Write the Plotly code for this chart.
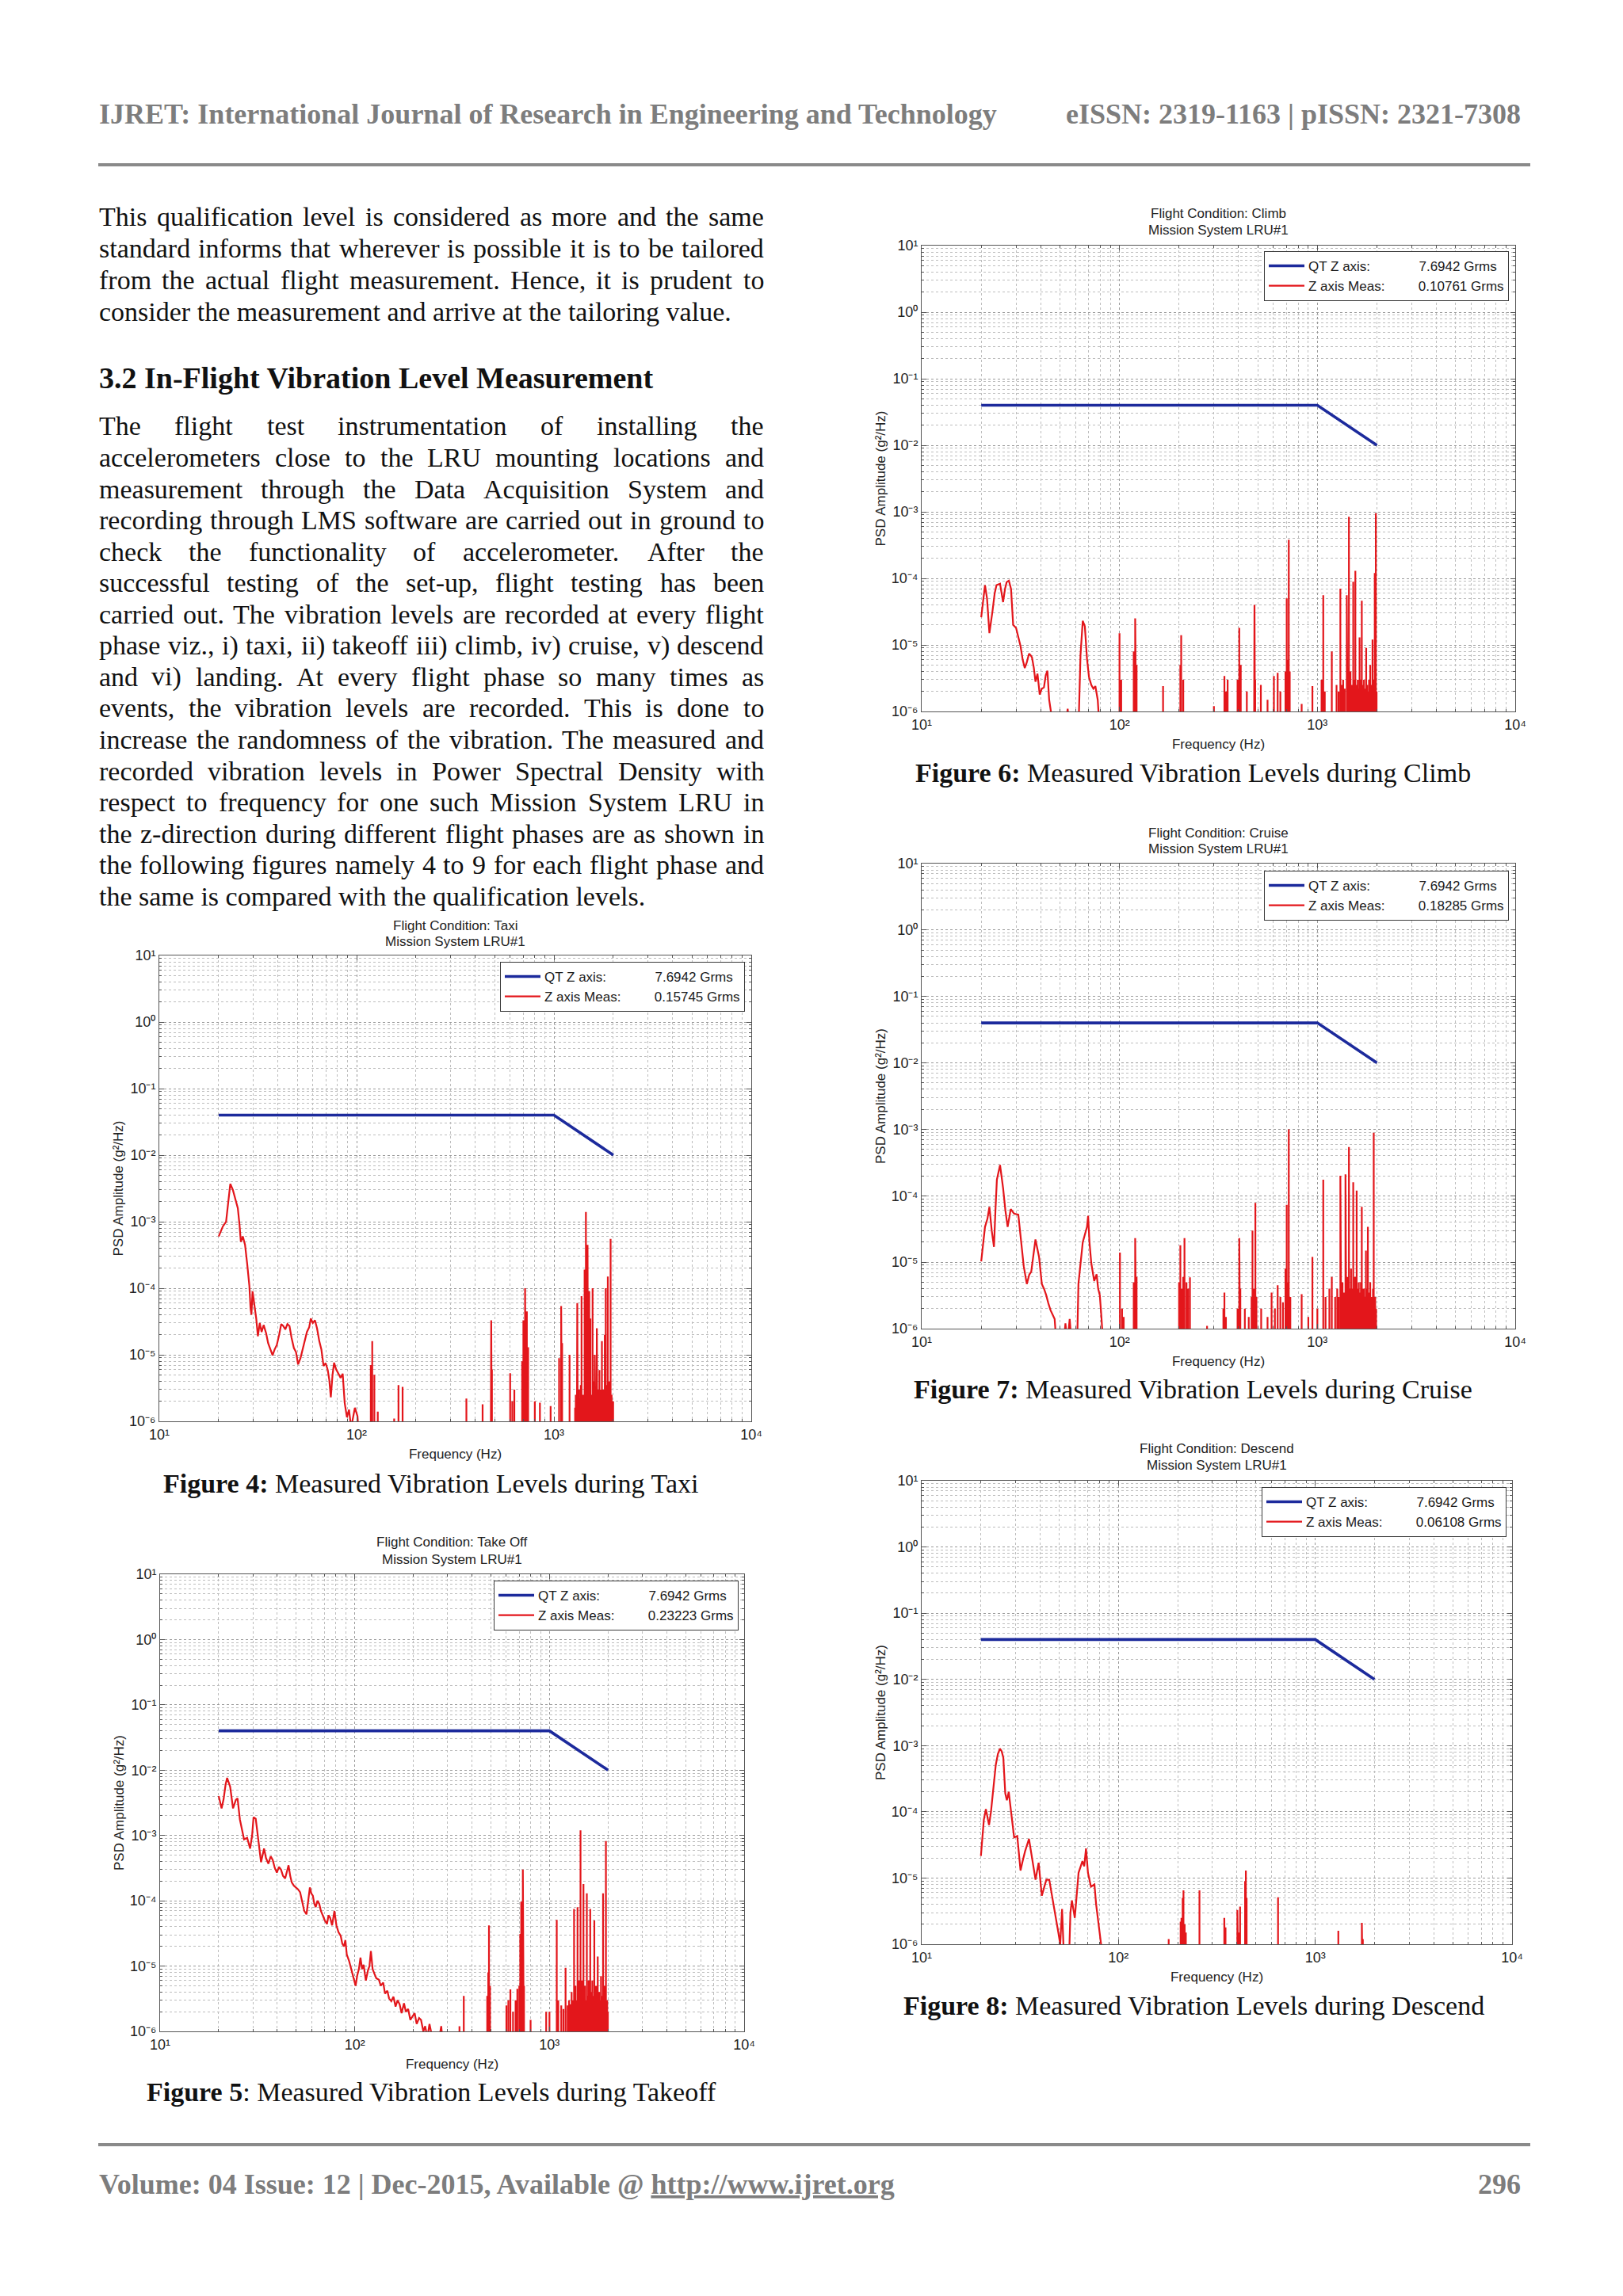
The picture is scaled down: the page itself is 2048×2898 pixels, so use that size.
import plotly.graph_objects as go

W, H = 2048, 2898

# ---------------- data ----------------
QT_FREQ = [20, 1000, 2000]
QT_PSD = [0.04, 0.04, 0.01]
QT_GRMS = "7.6942"

X_TICK_VALS = [10, 100, 1000, 10000]
X_TICK_TEXT = ["10¹", "10²", "10³", "10⁴"]
Y_TICK_VALS = [1e-6, 1e-5, 1e-4, 1e-3, 1e-2, 1e-1, 1, 10]
Y_TICK_TEXT = ["10⁻⁶", "10⁻⁵", "10⁻⁴", "10⁻³", "10⁻²", "10⁻¹", "10⁰", "10¹"]

FLOOR = 1e-7  # below the visible axis floor, spikes rise from here

# --- Taxi ---
TAXI_GRMS = "0.15745"
TAXI_F = [20, 21.0, 21.8, 22.3, 22.9, 23.6, 24.3, 25.0, 25.5, 25.9, 26.5, 27.2, 27.9, 28.6, 29.0, 29.3,
          29.7, 30.0, 30.5, 31.0, 31.6, 32.3, 33.0, 33.8, 34.8, 35.6, 36.5, 37.5, 38.4, 39.4, 40.5, 41.5,
          42.5, 43.5, 44.6, 45.7, 46.8, 48.1, 49.3, 50.5, 52.0, 53.2, 54.4, 56.0, 57.5, 58.6, 60.0, 61.5,
          63.0, 64.7, 66.3, 68.0, 69.7, 71.4, 72.7, 74.0, 75.5, 76.9, 78.8, 80.8, 83.0, 85.0, 87.0, 89.3,
          91.5, 93.8, 96.0, 98.0, 101, 103]
TAXI_P = [6.0e-4, 8.5e-4, 1.0e-3, 2.0e-3, 3.7e-3, 3.0e-3, 2.2e-3, 1.6e-3, 9e-4, 5.0e-4, 6.0e-4, 4.5e-4,
          2.3e-4, 1.1e-4, 5e-5, 4.0e-5, 9e-5, 7.5e-5, 5e-5, 3.5e-5, 1.9e-5, 3.0e-5, 2.2e-5, 2.8e-5, 2.1e-5,
          1.5e-5, 1.2e-5, 9.8e-6, 1.2e-5, 1.4e-5, 2.0e-5, 2.9e-5, 2.7e-5, 2.4e-5, 2.9e-5, 2.7e-5, 1.8e-5,
          1.26e-5, 1.1e-5, 7.2e-6, 9e-6, 1.2e-5, 1.6e-5, 2.2e-5, 2.6e-5, 3.5e-5, 3.0e-5, 3.3e-5, 2.5e-5,
          1.6e-5, 1.2e-5, 6.8e-6, 7.5e-6, 5.9e-6, 4.2e-6, 2.3e-6, 5.0e-6, 7.6e-6, 6.0e-6, 5.2e-6, 4.5e-6,
          5.2e-6, 1.9e-6, 1.15e-6, 1.5e-6, 8e-7, 1.1e-6, 1.6e-6, 1.2e-6, 5e-7]
TAXI_SPIKE_F = [118, 120, 123, 128, 155, 163, 171, 360, 435, 478, 481, 485, 600, 615, 630, 690, 700, 714,
                722, 729, 740, 800, 849, 962, 1062, 1088, 1100, 1200, 1280, 1290, 1305, 1313, 1322, 1340,
                1352, 1368, 1380, 1395, 1410, 1430, 1440, 1452, 1462, 1470, 1480, 1490, 1500, 1510, 1520,
                1530, 1540, 1550, 1560, 1570, 1582, 1590, 1600, 1610, 1622, 1630, 1640, 1650, 1662, 1675,
                1688, 1700, 1710, 1720, 1735, 1750, 1760, 1780, 1790, 1810, 1820, 1830, 1842, 1850, 1862,
                1875, 1890, 1900, 1915, 1937, 1945, 1960, 1970, 1985, 1995]
TAXI_SPIKE_P = [7e-6, 1.6e-5, 5e-6, 1.4e-6, 1.1e-6, 3.5e-6, 3.3e-6, 2.2e-6, 1.8e-6, 8e-6, 3.3e-5, 6e-6,
                5.3e-6, 2e-6, 3e-6, 8e-6, 3.3e-5, 1.0e-4, 2e-5, 4.5e-5, 1.3e-5, 2e-6, 1.9e-6, 1.7e-6,
                8.9e-6, 5.4e-5, 1.5e-5, 1.0e-5, 1.6e-6, 2.5e-6, 2e-6, 6e-5, 3e-6, 3e-6, 2.2e-6, 3.5e-6,
                7.6e-5, 2.5e-6, 2.5e-6, 1.9e-4, 3e-6, 1.4e-3, 2.8e-6, 5e-6, 4.5e-4, 2.2e-6, 3e-6, 9e-5,
                2.6e-6, 3.5e-5, 3e-6, 2.5e-6, 2.2e-6, 1.0e-4, 3e-6, 4e-6, 2.4e-6, 1.0e-5, 2.8e-6, 3e-6,
                2.2e-6, 2.5e-5, 3e-6, 3e-6, 2.4e-6, 5.9e-6, 2.6e-6, 2.5e-6, 3e-6, 1.6e-5, 2.2e-6, 3e-6,
                2.8e-6, 2e-5, 2.5e-6, 1.0e-4, 3e-6, 3.5e-6, 2.4e-6, 1.5e-4, 2.8e-6, 4e-6, 2.6e-6, 5.5e-4,
                3e-6, 2.5e-6, 2.2e-6, 1.5e-6, 2e-6]

# --- Take Off ---
TAKEOFF_GRMS = "0.23223"
TAKEOFF_F = [20, 20.7, 21.2, 21.7, 22.1, 22.9, 23.7, 24.5, 25.0, 25.7, 26.4, 27.0, 28.0, 29.0, 29.7, 30.2,
             31.0, 31.6, 32.2, 33.0, 34.2, 35.0, 36.0, 37.0, 37.9, 38.8, 39.8, 40.8, 41.8, 42.8, 43.9, 44.8,
             45.7, 46.6, 47.5, 48.7, 49.9, 51.1, 52.4, 53.7, 55.0, 56.5, 57.6, 58.8, 59.8, 60.9, 62.0, 63.0,
             64.3, 65.7, 67.0, 68.4, 70.2, 72.0, 73.3, 74.7, 76.5, 78.6, 80.5, 82.5, 84.7, 86.3, 88.0, 89.5,
             91.0, 93.5, 96.0, 98.5, 101, 103, 105, 107, 109, 111, 114, 117, 119, 121, 123.5, 126, 129, 133,
             136, 140, 143, 147, 150, 154, 158, 162, 166, 170, 174, 179, 183, 188, 193, 198, 203, 208, 214,
             219, 225, 230, 236, 242, 248, 255, 265, 272, 278, 284, 290]
TAKEOFF_P = [4.0e-3, 2.6e-3, 3.6e-3, 6e-3, 7.6e-3, 5.6e-3, 2.6e-3, 3.5e-3, 3.7e-3, 1.76e-3, 1.2e-3, 8.7e-4,
             9.2e-4, 6.3e-4, 1.0e-3, 1.9e-3, 1.8e-3, 1.1e-3, 7e-4, 3.9e-4, 6.3e-4, 4.5e-4, 3.7e-4, 4.8e-4,
             4.2e-4, 3.2e-4, 2.7e-4, 3.3e-4, 3.0e-4, 2.4e-4, 2.2e-4, 2.8e-4, 3.5e-4, 2.4e-4, 1.9e-4, 1.7e-4,
             1.6e-4, 1.5e-4, 1.35e-4, 1.0e-4, 7.0e-5, 6.2e-5, 1.0e-4, 1.6e-4, 1.3e-4, 1.2e-4, 9e-5, 8e-5,
             1.0e-4, 9e-5, 7e-5, 6e-5, 5e-5, 4.4e-5, 6e-5, 5.5e-5, 4.2e-5, 7e-5, 4.2e-5, 3.3e-5, 2.9e-5,
             2.2e-5, 2e-5, 2.5e-5, 1.5e-5, 1.2e-5, 8.9e-6, 7e-6, 5.0e-6, 7.2e-6, 9e-6, 1.35e-5, 9e-6,
             1.05e-5, 6e-6, 8.7e-6, 1e-5, 1.7e-5, 9e-6, 7.7e-6, 6.5e-6, 6.2e-6, 5e-6, 5.6e-6, 3.8e-6,
             4.2e-6, 3.2e-6, 2.9e-6, 3.4e-6, 2.4e-6, 3e-6, 2.6e-6, 1.9e-6, 2.7e-6, 2.0e-6, 2.2e-6, 1.5e-6,
             1.7e-6, 1.9e-6, 1.3e-6, 1.6e-6, 1.5e-6, 1.0e-6, 1.2e-6, 8e-7, 1.3e-6, 9e-7, 6e-7, 5e-7, 8e-7,
             1.2e-6, 6e-7, 5e-7]
TAKEOFF_SPIKE_F = [345, 363, 479, 485, 489, 495, 601, 615, 630, 650, 670, 684, 700, 708, 716, 730, 740,
                   800, 962, 1000, 1090, 1110, 1150, 1180, 1210, 1240, 1260, 1280, 1300, 1320, 1338, 1350,
                   1360, 1380, 1394, 1408, 1420, 1432, 1444, 1458, 1470, 1482, 1495, 1508, 1520, 1540,
                   1556, 1570, 1590, 1605, 1620, 1640, 1660, 1680, 1700, 1718, 1735, 1752, 1770, 1785,
                   1800, 1820, 1840, 1860, 1885, 1900, 1920, 1935, 1950, 1965, 1980, 1995]
TAKEOFF_SPIKE_P = [1.2e-6, 3.5e-6, 3.5e-6, 8e-6, 4.2e-5, 5e-6, 2.5e-6, 3e-6, 4.4e-6, 2e-6, 3e-6, 4.5e-6,
                   5e-6, 3.1e-5, 9.7e-5, 3.0e-4, 5e-6, 1.5e-6, 2.0e-6, 2e-6, 5.1e-5, 3e-6, 2.5e-6, 2.2e-6,
                   9.4e-6, 2.5e-6, 3e-6, 2.6e-6, 4e-6, 3e-6, 7.5e-5, 3.5e-6, 5e-6, 3e-6, 8e-5, 3.5e-6,
                   6e-6, 4e-6, 1.2e-3, 3.5e-6, 6e-6, 4e-6, 1.8e-4, 3.5e-6, 5e-6, 3e-6, 1.3e-4, 3.5e-6,
                   6e-6, 3e-6, 7.5e-5, 4e-6, 6e-6, 3.5e-6, 5e-5, 3e-6, 5e-6, 3.5e-6, 1.4e-5, 3e-6, 4e-6,
                   3e-6, 7e-6, 3.5e-6, 1.3e-4, 3e-6, 5e-6, 3e-6, 8.2e-4, 3e-6, 3e-6, 2e-6]

# --- Climb ---
CLIMB_GRMS = "0.10761"
CLIMB_F = [20, 20.5, 20.9, 21.4, 22.0, 22.8, 23.4, 23.9, 24.9, 25.8, 26.4, 26.9, 27.6, 28.3, 29.0, 30.0,
           30.8, 31.6, 32.4, 33.2, 34.0, 34.9, 35.5, 36.1, 36.9, 37.6, 38.5, 39.5, 40.5, 41.5, 42.4, 43.2,
           44.1, 45.0, 46, 53, 54.7, 56, 62, 63.5, 65.2, 66.8, 68.5, 70.1, 72.0, 73.8, 75.5, 77.6, 79.5]
CLIMB_P = [2.6e-5, 5e-5, 7.9e-5, 5e-5, 1.5e-5, 3.2e-5, 6e-5, 7.9e-5, 8.3e-5, 4.4e-5, 7e-5, 8.8e-5, 9.2e-5,
           6.9e-5, 2.0e-5, 1.8e-5, 1.3e-5, 9.6e-6, 6e-6, 4.5e-6, 5.5e-6, 7.4e-6, 7.0e-6, 6.5e-6, 4.5e-6,
           2.8e-6, 3.7e-6, 1.8e-6, 2.2e-6, 2.3e-6, 3.5e-6, 4.1e-6, 1.5e-6, 1.0e-6, 5e-7, 5e-7, 1.1e-6,
           5e-7, 5e-7, 7e-6, 2.3e-5, 1.9e-5, 6.2e-6, 3.3e-6, 2.5e-6, 2.2e-6, 2.4e-6, 1.5e-6, 5e-7]
CLIMB_SPIKE_F = [100, 102, 118, 120, 122, 166, 203, 205, 210, 300, 339, 345, 352, 395, 403, 410, 440, 478,
                 481, 485, 518, 560, 603, 630, 650, 690, 700, 710, 717, 725, 833, 944, 1050, 1071, 1090,
                 1183, 1250, 1280, 1307, 1330, 1350, 1375, 1408, 1425, 1444, 1470, 1495, 1518, 1535,
                 1556, 1580, 1600, 1615, 1634, 1655, 1677, 1700, 1720, 1745, 1765, 1785, 1800, 1825,
                 1850, 1875, 1900, 1925, 1950, 1975, 1992]
CLIMB_SPIKE_P = [1.5e-5, 3e-6, 8e-6, 2.5e-5, 5e-6, 2.4e-6, 5e-6, 1.4e-5, 3e-6, 1.2e-6, 3.4e-6, 2e-6, 3e-6,
                 3e-6, 1.8e-5, 5e-6, 2e-6, 1.2e-5, 4.0e-5, 3e-6, 2.5e-6, 1.5e-6, 3.4e-6, 3.8e-6, 2e-6,
                 4e-6, 5e-5, 6e-6, 3.8e-4, 4e-6, 1.3e-6, 2.4e-6, 3e-6, 5.6e-5, 2e-6, 8e-6, 2.5e-6, 2e-6,
                 7e-5, 2.5e-6, 3e-6, 2.2e-6, 5.6e-5, 3e-6, 8.4e-4, 4e-6, 2.5e-6, 8.9e-5, 3e-6, 1.3e-4,
                 2.5e-6, 3e-6, 2.2e-6, 1.3e-5, 3e-6, 4.6e-5, 2.5e-6, 3e-6, 2.2e-6, 9e-6, 2.5e-6, 2e-6,
                 3e-6, 5e-6, 2.5e-6, 1.2e-5, 3e-6, 1.2e-4, 9.5e-4, 2e-6]

# --- Cruise ---
CRUISE_GRMS = "0.18285"
CRUISE_F = [20, 20.5, 20.9, 21.5, 22.0, 22.6, 23.2, 23.6, 24.0, 24.9, 25.8, 26.5, 27.2, 28.2, 29.3, 30.8,
            31.6, 32.8, 34.0, 35.0, 35.8, 36.7, 37.6, 39.2, 40.5, 41.5, 42.6, 43.7, 44.8, 47.0, 48.2, 52,
            53.3, 54.5, 56.0, 57.5, 61, 62, 63.5, 65.2, 68.5, 69.4, 70.5, 72.0, 74.5, 76.6, 78, 79.5, 81, 83]
CRUISE_P = [1.03e-5, 2.2e-5, 3.4e-5, 4.5e-5, 6.8e-5, 3e-5, 1.7e-5, 6e-5, 1.75e-4, 2.9e-4, 1.3e-4, 6e-5,
            3.4e-5, 6.3e-5, 5.4e-5, 5.2e-5, 2.6e-5, 8.7e-6, 4.7e-6, 6.5e-6, 7.2e-6, 1.3e-5, 2.2e-5, 1.2e-5,
            4.7e-6, 4e-6, 3.2e-6, 2.4e-6, 1.9e-6, 1.4e-6, 5e-7, 5e-7, 1.2e-6, 6e-7, 1.4e-6, 5e-7, 5e-7,
            4.7e-6, 1e-5, 2.0e-5, 3.4e-5, 5e-5, 2e-5, 9.7e-6, 5.2e-6, 6.6e-6, 4e-6, 3.2e-6, 1.5e-6, 5e-7]
CRUISE_SPIKE_F = [100.5, 103, 105, 118, 120, 122, 200, 203, 206, 210, 213, 218, 222, 227, 277, 335, 339,
                  345, 395, 403, 408, 430, 450, 465, 470, 478, 486, 492, 520, 560, 587, 610, 630, 650, 670,
                  690, 700, 710, 717, 730, 833, 900, 944, 1000, 1071, 1100, 1150, 1183, 1230, 1260, 1280,
                  1307, 1325, 1340, 1360, 1387, 1405, 1420, 1444, 1462, 1480, 1500, 1518, 1535, 1550, 1565,
                  1580, 1600, 1620, 1640, 1660, 1677, 1700, 1720, 1740, 1760, 1780, 1800, 1825, 1850, 1870,
                  1890, 1910, 1927, 1945, 1960, 1980]
CRUISE_SPIKE_P = [1.4e-5, 2e-6, 1.5e-6, 5e-6, 2.3e-5, 6e-6, 5e-6, 1.8e-5, 4e-6, 6e-6, 2.3e-5, 5e-6, 4e-6,
                  5.9e-6, 1.1e-6, 2e-6, 3.5e-6, 1.5e-6, 2e-6, 2.3e-5, 4e-6, 2e-6, 1.5e-6, 3e-6, 3e-5, 4e-6,
                  7.8e-5, 3e-6, 2e-6, 1.5e-6, 3.5e-6, 2e-6, 4.5e-6, 3e-6, 2.5e-6, 8e-6, 7.3e-5, 5e-6,
                  1.0e-3, 3e-6, 3.3e-6, 1.5e-6, 1.2e-5, 2e-6, 1.75e-4, 3e-6, 4e-6, 6e-6, 3e-6, 4e-6, 3e-6,
                  2.0e-4, 4e-6, 5e-6, 3.5e-6, 2.1e-4, 4e-6, 6e-6, 5.4e-4, 4e-6, 8e-6, 4e-6, 1.6e-4, 4e-6,
                  6e-6, 3.5e-6, 1.2e-4, 4e-6, 5e-6, 3.5e-6, 5e-6, 6.8e-5, 4e-6, 4e-6, 3e-6, 1.5e-5, 4e-6,
                  3.4e-5, 3.5e-6, 5e-6, 3e-6, 3e-6, 4e-6, 8.9e-4, 3e-6, 3e-6, 2e-6]

# --- Descend ---
DESCEND_GRMS = "0.06108"
DESCEND_F = [20, 20.4, 20.7, 21.2, 21.6, 22.0, 22.5, 22.9, 23.3, 23.8, 24.4, 25.0, 25.5, 26.0, 26.6, 27.1,
             27.7, 28.2, 28.7, 29.5, 30.6, 31.2, 31.8, 32.6, 33.5, 35.1, 36.4, 37.9, 39.3, 40.8, 41.8, 43.0,
             44.5, 46.2, 48.2, 49.5, 50.6, 51.7, 53.0, 56, 57, 58.0, 60.0, 61.3, 62.7, 65.6, 67, 68.4, 70.0,
             72.5, 75.5, 77, 78.5, 81, 84]
DESCEND_P = [2.15e-5, 5e-5, 7.6e-5, 1.1e-4, 8e-5, 6.3e-5, 1.0e-4, 1.6e-4, 3e-4, 5.1e-4, 7.5e-4, 9e-4,
             8.2e-4, 6.6e-4, 1.9e-4, 1.5e-4, 2.0e-4, 1.3e-4, 7.6e-5, 4.1e-5, 4.3e-5, 2.5e-5, 1.3e-5, 1.8e-5,
             2.5e-5, 3.9e-5, 2.0e-5, 9.4e-6, 1.7e-5, 5.4e-6, 7e-6, 9.4e-6, 9.4e-6, 5.1e-6, 2.3e-6, 1.5e-6,
             1.0e-6, 3.4e-6, 5e-7, 5e-7, 3e-6, 4.6e-6, 2.5e-6, 5e-6, 1.2e-5, 1.8e-5, 1.5e-5, 2.8e-5, 1.2e-5,
             7.4e-6, 8e-6, 4e-6, 2.5e-6, 1.3e-6, 5e-7]
DESCEND_SPIKE_F = [180, 207, 209, 212, 214, 217, 220, 258, 345, 350, 402, 408, 415, 440, 444, 448, 647,
                   1310, 1725, 1745]
DESCEND_SPIKE_P = [1.2e-6, 2.2e-6, 2.5e-6, 5e-6, 6.5e-6, 2e-6, 1.5e-6, 6.5e-6, 2.5e-6, 1.8e-6, 3.3e-6,
                   1.5e-6, 3.7e-6, 9e-6, 1.3e-5, 5e-6, 5.1e-6, 1.6e-6, 2.1e-6, 1.2e-6]

# ---------------- page text ----------------
HEADER_LEFT = "IJRET: International Journal of Research in Engineering and Technology"
HEADER_RIGHT = "eISSN: 2319-1163 | pISSN: 2321-7308"
FOOTER_LEFT = "Volume: 04 Issue: 12 | Dec-2015, Available @ "
FOOTER_LINK = "http://www.ijret.org"
FOOTER_PAGE = "296"
HEADING = "3.2 In-Flight Vibration Level Measurement"
PARA1 = [
    "This qualification level is considered as more and the same",
    "standard informs that wherever is possible it is to be tailored",
    "from the actual flight measurement.  Hence, it is prudent to",
    "consider the measurement and arrive at the tailoring value.",
]
PARA2 = [
    "The flight test instrumentation of installing the",
    "accelerometers close to the LRU mounting locations and",
    "measurement through the Data Acquisition System and",
    "recording through LMS software are carried out in ground to",
    "check the functionality of accelerometer.  After the",
    "successful testing of the set-up, flight testing has been",
    "carried out.  The vibration levels are recorded at every flight",
    "phase viz., i) taxi, ii) takeoff iii) climb, iv) cruise, v) descend",
    "and vi) landing.  At every flight phase so many times as",
    "events, the vibration levels are recorded.  This is done to",
    "increase the randomness of the vibration. The measured and",
    "recorded vibration levels in Power Spectral Density with",
    "respect to frequency for one such Mission System LRU in",
    "the z-direction during different flight phases are as shown in",
    "the following figures namely 4 to 9 for each flight phase and",
    "the same is compared with the qualification levels.",
]

# ---------------- styling / layout ----------------
SERIF = "Liberation Serif, Times New Roman, serif"
SANS = "Liberation Sans, Arial, sans-serif"
BLUE = "#1c2a9c"
RED = "#e3161b"
GRAY_HDR = "#7d7d7d"
AX_TXT = "#222222"

TIMES_R = {' ': 250, '!': 333, '"': 408, "'": 333, '(': 333, ')': 333, ',': 250, '-': 333, '.': 250,
           '/': 278, ':': 278, ';': 278, '?': 444, '@': 921,
           'A': 722, 'B': 667, 'C': 667, 'D': 722, 'E': 611, 'F': 556, 'G': 722, 'H': 722, 'I': 333,
           'J': 389, 'K': 722, 'L': 611, 'M': 889, 'N': 722, 'O': 722, 'P': 556, 'Q': 722, 'R': 667,
           'S': 556, 'T': 611, 'U': 722, 'V': 722, 'W': 944, 'X': 722, 'Y': 722, 'Z': 611,
           'a': 444, 'b': 500, 'c': 444, 'd': 500, 'e': 444, 'f': 333, 'g': 500, 'h': 500, 'i': 278,
           'j': 278, 'k': 500, 'l': 278, 'm': 778, 'n': 500, 'o': 500, 'p': 500, 'q': 500, 'r': 333,
           's': 389, 't': 278, 'u': 500, 'v': 500, 'w': 722, 'x': 500, 'y': 500, 'z': 444}


def tw(s, size):
    return sum(TIMES_R.get(c, 500) for c in s) * size / 1000.0


CHARTS = [
    dict(cond="Taxi", grms=TAXI_GRMS, f=TAXI_F, p=TAXI_P, sf=TAXI_SPIKE_F, sp=TAXI_SPIKE_P,
         box=(201, 948, 1206, 1794), ttl=(1168, 1188), leg=(940, 1214),
         cap=("<b>Figure 4:</b> Measured Vibration Levels during Taxi", 543, 1872)),
    dict(cond="Take Off", grms=TAKEOFF_GRMS, f=TAKEOFF_F, p=TAKEOFF_P, sf=TAKEOFF_SPIKE_F, sp=TAKEOFF_SPIKE_P,
         box=(202, 939, 1987, 2564), ttl=(1947, 1968), leg=(932, 1995),
         cap=("<b>Figure 5</b>: Measured Vibration Levels during Takeoff", 544, 2640)),
    dict(cond="Climb", grms=CLIMB_GRMS, f=CLIMB_F, p=CLIMB_P, sf=CLIMB_SPIKE_F, sp=CLIMB_SPIKE_P,
         box=(1163, 1912, 310, 898), ttl=(270, 290), leg=(1904, 317),
         cap=("<b>Figure 6:</b> Measured Vibration Levels during Climb", 1505, 975)),
    dict(cond="Cruise", grms=CRUISE_GRMS, f=CRUISE_F, p=CRUISE_P, sf=CRUISE_SPIKE_F, sp=CRUISE_SPIKE_P,
         box=(1163, 1912, 1090, 1677), ttl=(1051, 1071), leg=(1904, 1099),
         cap=("<b>Figure 7:</b> Measured Vibration Levels during Cruise", 1505, 1753)),
    dict(cond="Descend", grms=DESCEND_GRMS, f=DESCEND_F, p=DESCEND_P, sf=DESCEND_SPIKE_F, sp=DESCEND_SPIKE_P,
         box=(1163, 1908, 1869, 2454), ttl=(1828, 1849), leg=(1901, 1877),
         cap=("<b>Figure 8:</b> Measured Vibration Levels during Descend", 1506, 2531)),
]

fig = go.Figure()
annotations = []
NB = "\u00a0"


def px(x):
    return x / W


def py(y):
    return 1 - y / H


for i, c in enumerate(CHARTS):
    k = "" if i == 0 else str(i + 1)
    xa, ya, lg = "x" + k, "y" + k, "legend" + k
    # measured trace: continuous low-frequency curve, then narrow spikes rising from below the floor
    xs, ys = list(c["f"]), list(c["p"])
    for fq, pk in sorted(zip(c["sf"], c["sp"])):
        xs += [fq, fq, fq]
        ys += [FLOOR, pk, FLOOR]
    fig.add_trace(go.Scatter(x=QT_FREQ, y=QT_PSD, mode="lines", xaxis=xa, yaxis=ya, legend=lg,
                             name="QT Z axis:" + NB * 13 + QT_GRMS + " Grms",
                             line=dict(color=BLUE, width=3.6)))
    fig.add_trace(go.Scatter(x=xs, y=ys, mode="lines", xaxis=xa, yaxis=ya, legend=lg,
                             name="Z axis Meas:" + NB * 9 + c["grms"] + " Grms",
                             line=dict(color=RED, width=2.2)))
    x0, x1, y0, y1 = c["box"]
    common = dict(type="log", showline=True, mirror="allticks", linecolor="#555555", linewidth=1,
                  ticks="inside", ticklen=6, tickcolor="#555555", showgrid=True, gridcolor="#9a9a9a",
                  griddash="dot", gridwidth=1, zeroline=False, automargin=False,
                  tickfont=dict(family=SANS, size=18, color=AX_TXT),
                  minor=dict(dtick="D1", ticks="inside", ticklen=3, tickcolor="#555555",
                             showgrid=True, gridcolor="#bdbdbd", griddash="dot", gridwidth=1))
    fig.layout["xaxis" + k] = dict(common, domain=[px(x0), px(x1)], anchor=ya, range=[1, 4],
                                   tickmode="array", tickvals=X_TICK_VALS, ticktext=X_TICK_TEXT,
                                   title=dict(text="Frequency (Hz)", standoff=9,
                                              font=dict(family=SANS, size=17, color=AX_TXT)))
    fig.layout["yaxis" + k] = dict(common, domain=[py(y1), py(y0)], anchor=xa, range=[-6, 1],
                                   tickmode="array", tickvals=Y_TICK_VALS, ticktext=Y_TICK_TEXT,
                                   title=dict(text="PSD Amplitude (g²/Hz)", standoff=2,
                                              font=dict(family=SANS, size=17, color=AX_TXT)))
    fig.layout[lg] = dict(x=px(c["leg"][0]), y=py(c["leg"][1]), xanchor="right", yanchor="top",
                          bgcolor="white", bordercolor="#3a3a3a", borderwidth=1, tracegroupgap=0,
                          itemwidth=45,
                          font=dict(family=SANS, size=17, color="#1a1a1a"))
    cx = (x0 + x1) / 2
    annotations.append(dict(text="Flight Condition: " + c["cond"], x=px(cx), y=py(c["ttl"][0]),
                            xanchor="center", yanchor="middle",
                            font=dict(family=SANS, size=17, color=AX_TXT)))
    annotations.append(dict(text="Mission System LRU#1", x=px(cx), y=py(c["ttl"][1]),
                            xanchor="center", yanchor="middle",
                            font=dict(family=SANS, size=17, color=AX_TXT)))
    cap, capx, capy = c["cap"]
    annotations.append(dict(text=cap, x=px(capx), y=py(capy), xanchor="center", yanchor="middle",
                            font=dict(family=SERIF, size=34, color="#111111")))

# header / footer
annotations.append(dict(text="<b>" + HEADER_LEFT + "</b>", x=px(124), y=py(144), xanchor="left",
                        yanchor="middle", font=dict(family=SERIF, size=36, color=GRAY_HDR)))
annotations.append(dict(text="<b>" + HEADER_RIGHT + "</b>", x=px(1920), y=py(144), xanchor="right",
                        yanchor="middle", font=dict(family=SERIF, size=36, color=GRAY_HDR)))
annotations.append(dict(text="<b>" + FOOTER_LEFT + "<span style='text-decoration:underline'>" + FOOTER_LINK
                        + "</span></b>", x=px(124), y=py(2757), xanchor="left", yanchor="middle",
                        font=dict(family=SERIF, size=36, color=GRAY_HDR)))
annotations.append(dict(text="<b>" + FOOTER_PAGE + "</b>", x=px(1920), y=py(2757), xanchor="right",
                        yanchor="middle", font=dict(family=SERIF, size=36, color=GRAY_HDR)))
annotations.append(dict(text="<b>" + HEADING + "</b>", x=px(124), y=py(477), xanchor="left",
                        yanchor="middle", font=dict(family=SERIF, size=38, color="#111111")))

# body text, justified word by word
BODY = 34
COL_L, COL_R = 124, 963


def set_para(lines, y_start, pitch):
    for li, line in enumerate(lines):
        y = y_start + li * pitch
        words = line.split()
        last = li == len(lines) - 1
        if last or len(words) == 1:
            annotations.append(dict(text=line, x=px(COL_L), y=py(y), xanchor="left", yanchor="middle",
                                    font=dict(family=SERIF, size=BODY, color="#111111")))
            continue
        widths = [tw(w, BODY) for w in words]
        gap = (COL_R - COL_L - sum(widths)) / (len(words) - 1)
        xcur = COL_L
        for w, wd in zip(words, widths):
            annotations.append(dict(text=w, x=px(xcur), y=py(y), xanchor="left", yanchor="middle",
                                    font=dict(family=SERIF, size=BODY, color="#111111")))
            xcur += wd + gap


set_para(PARA1, 274, 40.0)
set_para(PARA2, 538, 39.55)

for a in annotations:
    a.setdefault("xref", "paper")
    a.setdefault("yref", "paper")
    a["showarrow"] = False
    a["borderpad"] = 0

shapes = [
    dict(type="line", xref="paper", yref="paper", x0=px(124), x1=px(1931), y0=py(208), y1=py(208),
         line=dict(color="#8a8a8a", width=4)),
    dict(type="line", xref="paper", yref="paper", x0=px(124), x1=px(1931), y0=py(2707), y1=py(2707),
         line=dict(color="#8a8a8a", width=4)),
]

fig.update_layout(width=W, height=H, margin=dict(l=0, r=0, t=0, b=0, pad=0),
                  paper_bgcolor="white", plot_bgcolor="white", showlegend=True,
                  annotations=annotations, shapes=shapes)

fig.write_html("out.html", config={"displayModeBar": False},
               post_script="document.body.style.margin='0px';document.body.style.padding='0px';")
